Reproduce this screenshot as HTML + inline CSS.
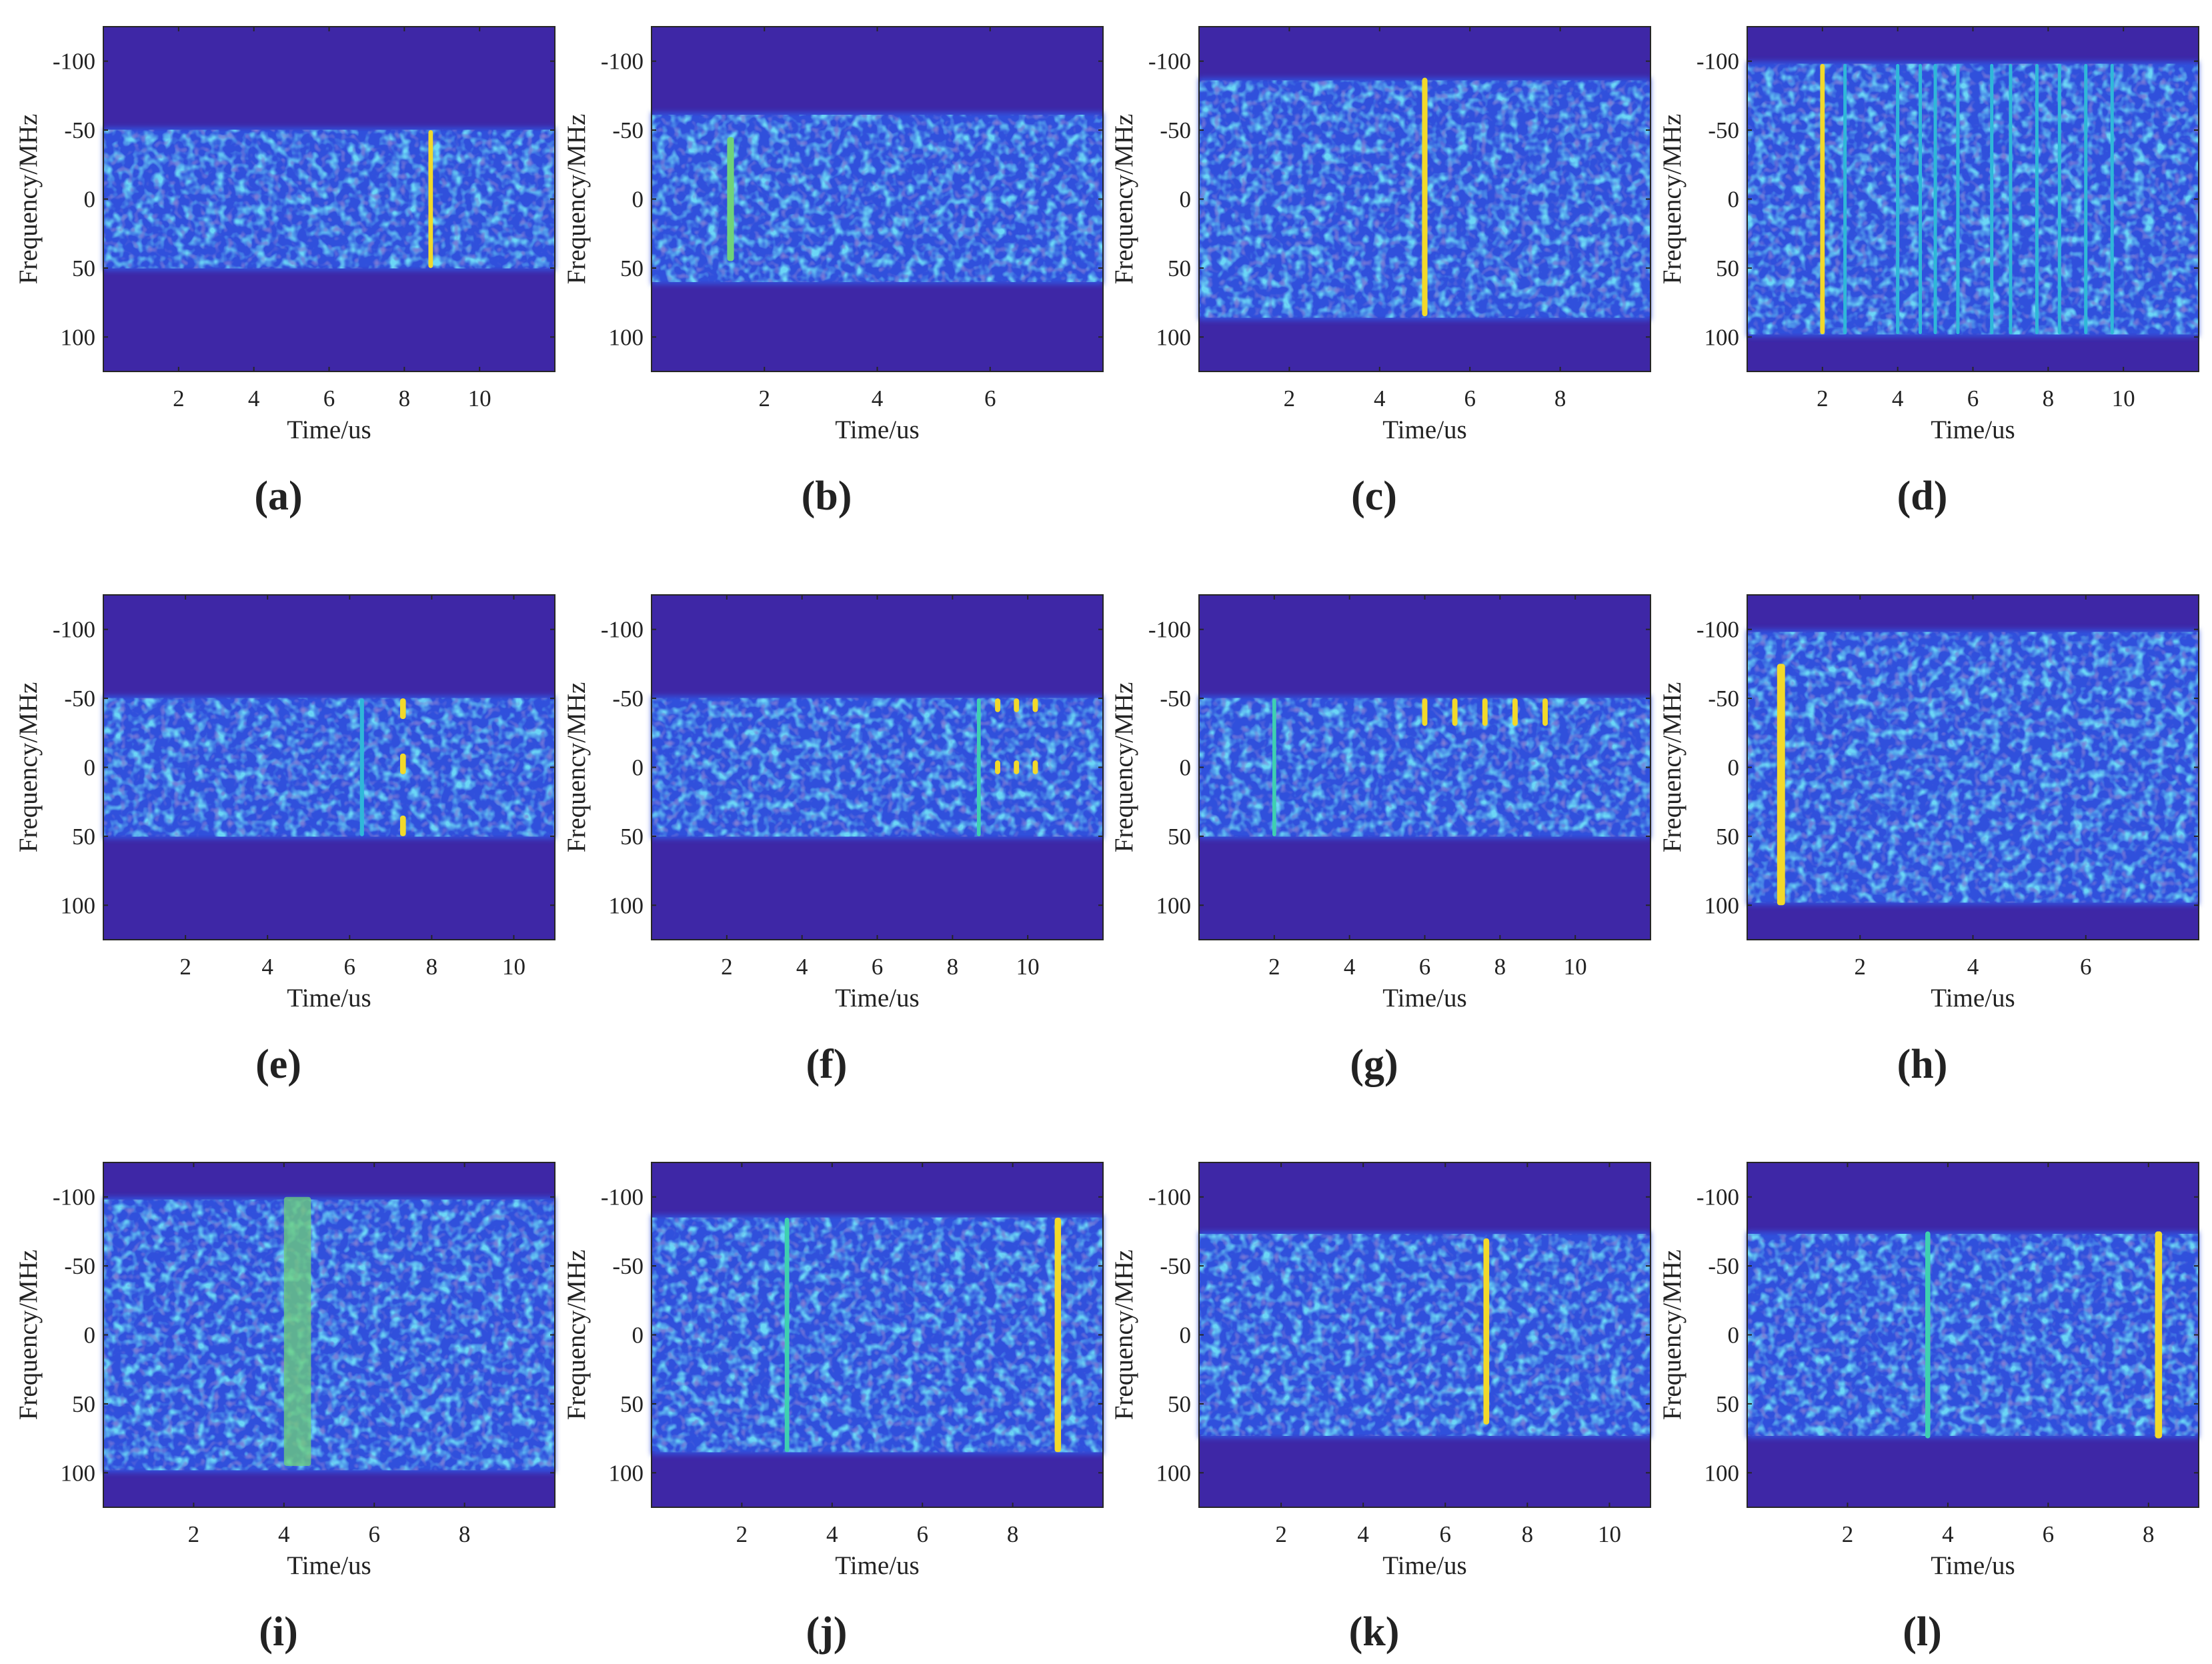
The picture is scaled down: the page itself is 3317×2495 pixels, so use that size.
<!DOCTYPE html>
<html><head><meta charset="utf-8">
<style>
html,body{margin:0;padding:0;background:#fff;}
svg{display:block;}
text{font-family:"Liberation Serif",serif;fill:#222;}
</style></head>
<body>
<svg id="fig" width="3317" height="2495" viewBox="0 0 3317 2495" xmlns="http://www.w3.org/2000/svg">
<defs id="defs"></defs>
</svg>
<script>
// ---- data ----
const panelLetters = ['a','b','c','d','e','f','g','h','i','j','k','l'];
const timeMax = [12, 8, 10, 12, 11, 12, 12, 8, 10, 10, 11, 9];
const timeTicks = [[2,4,6,8,10],[2,4,6],[2,4,6,8],[2,4,6,8,10],[2,4,6,8,10],[2,4,6,8,10],[2,4,6,8,10],[2,4,6],[2,4,6,8],[2,4,6,8],[2,4,6,8,10],[2,4,6,8]];
const freqTicks = [-100,-50,0,50,100];
const bandTop = [-52,-63,-88,-100,-52,-52,-52,-100,-100,-87,-75,-75];
const bandBottom = [52,62,88,100,52,52,52,100,100,87,75,75];
// signal marks per panel: [time, freqStart, freqEnd, intensity(0..1), width in us]
const signals = [
 [[8.7,-50,50,0.9,0.12]],
 [[1.4,-45,45,0.6,0.12]],
 [[5.0,-88,85,0.9,0.12]],
 [[2.0,-98,98,0.85,0.12],[2.6,-98,98,0.4,0.08],[4.0,-98,98,0.45,0.08],[4.6,-98,98,0.3,0.08],[5.0,-98,98,0.35,0.08],[5.6,-98,98,0.3,0.08],[6.5,-98,98,0.4,0.08],[7.0,-98,98,0.3,0.08],[7.7,-98,98,0.35,0.08],[8.3,-98,98,0.3,0.08],[9.0,-98,98,0.35,0.08],[9.7,-98,98,0.45,0.08]],
 [[6.3,-50,50,0.45,0.1],[7.3,-50,-35,0.9,0.14],[7.3,-10,5,0.85,0.14],[7.3,35,50,0.9,0.14]],
 [[8.7,-50,50,0.5,0.1],[9.2,-50,-40,0.85,0.14],[9.7,-50,-40,0.85,0.14],[10.2,-50,-40,0.85,0.14],[9.2,-5,5,0.85,0.14],[9.7,-5,5,0.85,0.14],[10.2,-5,5,0.85,0.14]],
 [[2.0,-50,50,0.5,0.1],[6.0,-50,-30,0.85,0.14],[6.8,-50,-30,0.85,0.14],[7.6,-50,-30,0.85,0.14],[8.4,-50,-30,0.85,0.14],[9.2,-50,-30,0.85,0.14]],
 [[0.6,-75,100,0.85,0.14]],
 [[4.3,-100,95,0.55,0.6]],
 [[3.0,-85,85,0.5,0.1],[9.0,-85,85,0.9,0.14]],
 [[7.0,-70,65,0.85,0.14]],
 [[3.6,-75,75,0.5,0.1],[8.2,-75,75,0.9,0.14]]
];

// ---- layout ----
const colLeft = [155, 977, 1798, 2620];
const rowTop = [40, 892, 1743];
const PW = 677, PH = 517;
const NS = 'http://www.w3.org/2000/svg';
const svg = document.getElementById('fig');
const defs = document.getElementById('defs');
function mk(tag, attrs, parent){const e=document.createElementNS(NS,tag);for(const k in attrs)e.setAttribute(k,attrs[k]);(parent||svg).appendChild(e);return e;}

function sigColor(v){
  if(v>0.8) return '#f2d92a';
  if(v>0.6) return '#a8de3a';
  if(v>0.5) return '#6fd27a';
  if(v>0.45) return '#3fd0b0';
  return '#2fb8d8';
}

for(let p=0;p<12;p++){
  const L = colLeft[p%4], T = rowTop[Math.floor(p/4)];
  const xs = t => L + (t/timeMax[p])*PW;
  const ys = f => T + ((f+125)/250)*PH;
  const g = mk('g',{});
  
  

  const filt = mk('filter',{id:'nz'+p,x:'0',y:'0',width:'1',height:'1',filterUnits:'objectBoundingBox'},defs);
  mk('feTurbulence',{type:'fractalNoise',baseFrequency:'0.065',numOctaves:'2',seed:String(p*7+3)},filt);
  mk('feColorMatrix',{type:'matrix',values:'0 0 0 0 0.15  0 0 0 0 0.68  0 0 0 0 0.92  3.0 0 0 0 -1.35'},filt);
  const filt2 = mk('filter',{id:'nd'+p,x:'0',y:'0',width:'1',height:'1',filterUnits:'objectBoundingBox'},defs);
  mk('feTurbulence',{type:'fractalNoise',baseFrequency:'0.1',numOctaves:'1',seed:String(p*11+5)},filt2);
  mk('feColorMatrix',{type:'matrix',values:'0 0 0 0 0.2  0 0 0 0 0.2  0 0 0 0 0.68  0 -3.5 0 0 1.6'},filt2);
  const blur = mk('filter',{id:'bl'+p,x:'-0.05',y:'-0.05',width:'1.1',height:'1.1'},defs);
  mk('feGaussianBlur',{stdDeviation:'4'},blur);

  const bg = mk('rect',{x:L,y:T,width:PW,height:PH,fill:'#3e27a6'},g);
  
  

  const y0 = ys(bandTop[p]), y1 = ys(bandBottom[p]);
  const band = mk('rect',{x:L,y:y0,width:PW,height:y1-y0,fill:'#3050dc',filter:'url(#bl'+p+')'},g);
  
  
  const band2 = mk('rect',{x:L,y:y0+6,width:PW,height:Math.max(0,y1-y0-12),fill:'#3050dc'},g);
  
  
  const sp = mk('rect',{x:L,y:y0+4,width:PW,height:Math.max(0,y1-y0-8),fill:'#fff',filter:'url(#nz'+p+')'},g);
  
  
  const dk = mk('rect',{x:L,y:y0+4,width:PW,height:Math.max(0,y1-y0-8),fill:'#fff',filter:'url(#nd'+p+')'},g);
  
  

  signals[p].forEach((s,i)=>{
    const w = Math.max(5,(s[4]/timeMax[p])*PW);
    const r = mk('rect',{x:xs(s[0])-w/2,y:ys(s[1]),width:w,height:ys(s[2])-ys(s[1]),fill:sigColor(s[3]),rx:Math.min(4,w/2),opacity:w>20?0.75:1},g);
    
    
  });

  const fr = mk('rect',{x:L,y:T,width:PW,height:PH,fill:'none',stroke:'#262626','stroke-width':2},g);
  
  

  timeTicks[p].forEach(t=>{
    const x = xs(t);
    mk('line',{x1:x,y1:T+PH,x2:x,y2:T+PH-7,stroke:'#262626','stroke-width':2},g);
    mk('line',{x1:x,y1:T,x2:x,y2:T+7,stroke:'#262626','stroke-width':2},g);
    const tx = mk('text',{x:x,y:T+PH+52,'font-size':35,'text-anchor':'middle'},g);
    tx.textContent = t;
    
    
  });
  freqTicks.forEach(f=>{
    const y = ys(f);
    mk('line',{x1:L,y1:y,x2:L+7,y2:y,stroke:'#262626','stroke-width':2},g);
    mk('line',{x1:L+PW,y1:y,x2:L+PW-7,y2:y,stroke:'#262626','stroke-width':2},g);
    const ty = mk('text',{x:L-12,y:y+12,'font-size':35,'text-anchor':'end'},g);
    ty.textContent = f;
    
    
  });
  const xl = mk('text',{x:L+PW/2,y:T+PH+100,'font-size':39,'text-anchor':'middle'},g);
  xl.textContent = 'Time/us';
  
  
  const yl = mk('text',{x:0,y:0,'font-size':39,'text-anchor':'middle',transform:'translate('+(L-100)+','+(T+PH/2)+') rotate(-90)'},g);
  yl.textContent = 'Frequency/MHz';
  
  
  const cap = mk('text',{x:L+PW/2-76,y:T+PH+207,'font-size':62,'font-weight':'bold','text-anchor':'middle'},g);
  cap.textContent = '('+panelLetters[p]+')';
  
  
}
</script>
</body></html>
